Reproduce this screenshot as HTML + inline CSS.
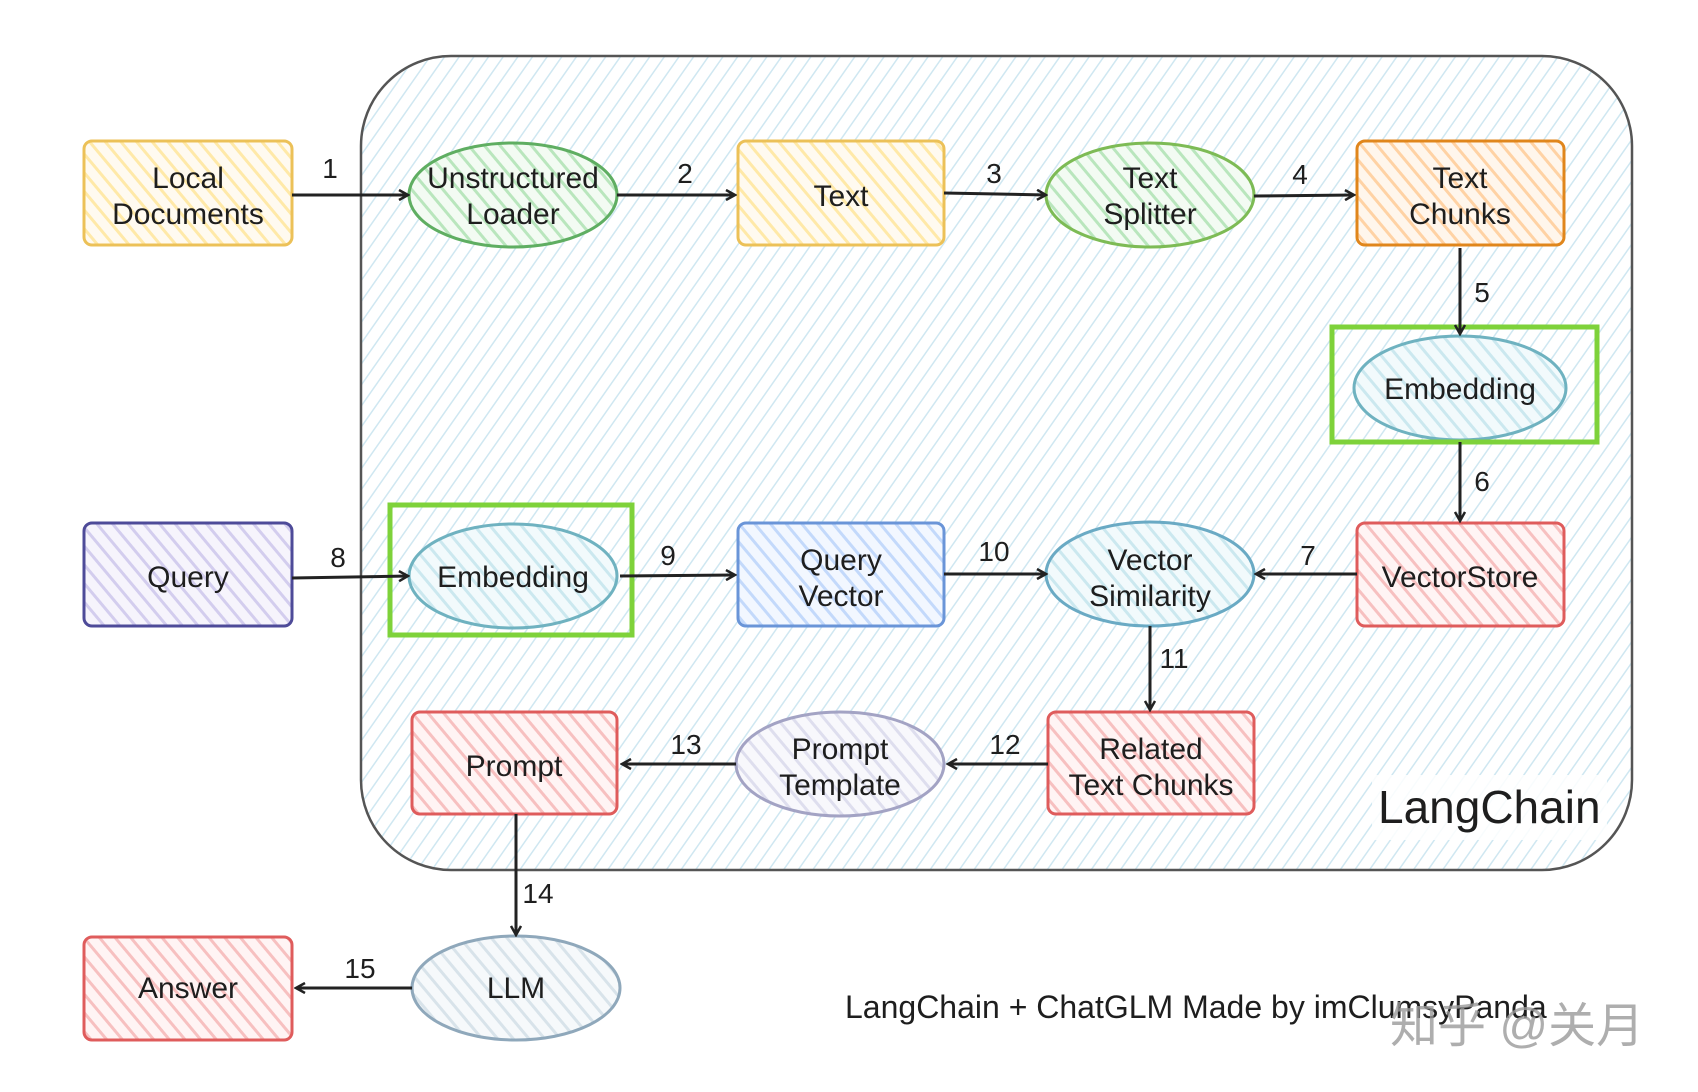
<!DOCTYPE html>
<html><head><meta charset="utf-8"><style>
html,body{margin:0;padding:0;background:#fff;}
svg{display:block;}
text{font-family:"Liberation Sans","Noto Sans CJK SC",sans-serif;fill:#1e1e1e;}
</style></head><body>
<svg width="1698" height="1092" viewBox="0 0 1698 1092" xmlns="http://www.w3.org/2000/svg">
<defs>
<pattern id="pC" width="12" height="12" patternUnits="userSpaceOnUse" patternTransform="rotate(35)"><rect width="12" height="12" fill="#fff"/><line x1="0" y1="0" x2="0" y2="12" stroke="#cfe7f1" stroke-width="3"/></pattern>
<pattern id="pY" width="12" height="12" patternUnits="userSpaceOnUse" patternTransform="rotate(-40)"><rect width="12" height="12" fill="#fffaf0"/><line x1="0" y1="0" x2="0" y2="12" stroke="#ffe9a8" stroke-width="6"/></pattern>
<pattern id="pG" width="12" height="12" patternUnits="userSpaceOnUse" patternTransform="rotate(-40)"><rect width="12" height="12" fill="#f3fbf3"/><line x1="0" y1="0" x2="0" y2="12" stroke="#b9e6bd" stroke-width="6"/></pattern>
<pattern id="pO" width="12" height="12" patternUnits="userSpaceOnUse" patternTransform="rotate(-40)"><rect width="12" height="12" fill="#fff6ec"/><line x1="0" y1="0" x2="0" y2="12" stroke="#ffd2a4" stroke-width="6"/></pattern>
<pattern id="pT" width="12" height="12" patternUnits="userSpaceOnUse" patternTransform="rotate(-40)"><rect width="12" height="12" fill="#f2fafc"/><line x1="0" y1="0" x2="0" y2="12" stroke="#cbe8ef" stroke-width="6"/></pattern>
<pattern id="pP" width="12" height="12" patternUnits="userSpaceOnUse" patternTransform="rotate(-40)"><rect width="12" height="12" fill="#f6f4fc"/><line x1="0" y1="0" x2="0" y2="12" stroke="#d3cdee" stroke-width="6"/></pattern>
<pattern id="pB" width="12" height="12" patternUnits="userSpaceOnUse" patternTransform="rotate(-40)"><rect width="12" height="12" fill="#f2f7ff"/><line x1="0" y1="0" x2="0" y2="12" stroke="#c3d9fb" stroke-width="6"/></pattern>
<pattern id="pR" width="12" height="12" patternUnits="userSpaceOnUse" patternTransform="rotate(-40)"><rect width="12" height="12" fill="#fff4f4"/><line x1="0" y1="0" x2="0" y2="12" stroke="#f7c0c0" stroke-width="6"/></pattern>
<pattern id="pL" width="12" height="12" patternUnits="userSpaceOnUse" patternTransform="rotate(-40)"><rect width="12" height="12" fill="#f8f8fc"/><line x1="0" y1="0" x2="0" y2="12" stroke="#dedeee" stroke-width="6"/></pattern>
<pattern id="pS" width="12" height="12" patternUnits="userSpaceOnUse" patternTransform="rotate(-40)"><rect width="12" height="12" fill="#f6f9fb"/><line x1="0" y1="0" x2="0" y2="12" stroke="#d8e3ea" stroke-width="6"/></pattern>
<marker id="ar" markerWidth="12" markerHeight="12" refX="10" refY="6" orient="auto" markerUnits="userSpaceOnUse"><path d="M1,1 L10,6 L1,11" fill="none" stroke="#222" stroke-width="2.5"/></marker>
</defs>

<rect x="361" y="56" width="1271" height="814" rx="90" fill="url(#pC)" stroke="#555" stroke-width="2.5"/>
<rect x="1372" y="775" width="235" height="65" fill="#fff" opacity="0.85"/>

<g stroke-width="3">
<rect x="84" y="141" width="208" height="104" rx="8" fill="url(#pY)" stroke="#ecc158"/>
<ellipse cx="513" cy="195" rx="104" ry="52" fill="url(#pG)" stroke="#5fae62"/>
<rect x="738" y="141" width="206" height="104" rx="8" fill="url(#pY)" stroke="#ecc158"/>
<ellipse cx="1150" cy="195" rx="104" ry="52" fill="url(#pG)" stroke="#7dbb55"/>
<rect x="1357" y="141" width="207" height="104" rx="8" fill="url(#pO)" stroke="#e0861c"/>
<ellipse cx="1460" cy="388" rx="106" ry="52" fill="url(#pT)" stroke="#6fb2c0"/>
<rect x="84" y="523" width="208" height="103" rx="8" fill="url(#pP)" stroke="#4e4b99"/>
<ellipse cx="513" cy="576" rx="104" ry="52" fill="url(#pT)" stroke="#6fb2c0"/>
<rect x="738" y="523" width="206" height="103" rx="8" fill="url(#pB)" stroke="#6a95d8"/>
<ellipse cx="1150" cy="574" rx="104" ry="52" fill="url(#pT)" stroke="#6aaac4"/>
<rect x="1357" y="523" width="207" height="103" rx="8" fill="url(#pR)" stroke="#df5c5c"/>
<rect x="412" y="712" width="205" height="102" rx="8" fill="url(#pR)" stroke="#df5c5c"/>
<ellipse cx="840" cy="764" rx="104" ry="52" fill="url(#pL)" stroke="#a3a3c4"/>
<rect x="1048" y="712" width="206" height="102" rx="8" fill="url(#pR)" stroke="#df5c5c"/>
<rect x="84" y="937" width="208" height="103" rx="8" fill="url(#pR)" stroke="#df5c5c"/>
<ellipse cx="516" cy="988" rx="104" ry="52" fill="url(#pS)" stroke="#8fa8bb"/>
</g>
<rect x="1332" y="327" width="265" height="115" fill="none" stroke="#7ed23a" stroke-width="5"/>
<rect x="390" y="505" width="242" height="130" fill="none" stroke="#7ed23a" stroke-width="5"/>

<g stroke="#222" stroke-width="3" fill="none" marker-end="url(#ar)">
<line x1="292" y1="195" x2="408" y2="195"/>
<line x1="617" y1="195" x2="735" y2="195"/>
<line x1="944" y1="193" x2="1046" y2="195"/>
<line x1="1254" y1="196" x2="1354" y2="195"/>
<line x1="1460" y1="248" x2="1460" y2="334"/>
<line x1="1460" y1="442" x2="1460" y2="521"/>
<line x1="1357" y1="574" x2="1256" y2="574"/>
<line x1="292" y1="578" x2="408" y2="576"/>
<line x1="620" y1="576" x2="735" y2="575"/>
<line x1="944" y1="574" x2="1046" y2="574"/>
<line x1="1150" y1="626" x2="1150" y2="710"/>
<line x1="1048" y1="764" x2="948" y2="764"/>
<line x1="736" y1="764" x2="622" y2="764"/>
<line x1="516" y1="814" x2="516" y2="935"/>
<line x1="412" y1="988" x2="296" y2="988"/>
</g>

<g font-size="28" text-anchor="middle">
<text x="330" y="178">1</text>
<text x="685" y="183">2</text>
<text x="994" y="183">3</text>
<text x="1300" y="184">4</text>
<text x="1482" y="302">5</text>
<text x="1482" y="491">6</text>
<text x="1308" y="565">7</text>
<text x="338" y="567">8</text>
<text x="668" y="565">9</text>
<text x="994" y="561">10</text>
<text x="1174" y="668">11</text>
<text x="1005" y="754">12</text>
<text x="686" y="754">13</text>
<text x="538" y="903">14</text>
<text x="360" y="978">15</text>
</g>

<g font-size="30" text-anchor="middle">
<text x="188" y="188">Local</text><text x="188" y="224">Documents</text>
<text x="513" y="188">Unstructured</text><text x="513" y="224">Loader</text>
<text x="841" y="206">Text</text>
<text x="1150" y="188">Text</text><text x="1150" y="224">Splitter</text>
<text x="1460" y="188">Text</text><text x="1460" y="224">Chunks</text>
<text x="1460" y="399">Embedding</text>
<text x="188" y="587">Query</text>
<text x="513" y="587">Embedding</text>
<text x="841" y="570">Query</text><text x="841" y="606">Vector</text>
<text x="1150" y="570">Vector</text><text x="1150" y="606">Similarity</text>
<text x="1460" y="587">VectorStore</text>
<text x="514" y="776">Prompt</text>
<text x="840" y="759">Prompt</text><text x="840" y="795">Template</text>
<text x="1151" y="759">Related</text><text x="1151" y="795">Text Chunks</text>
<text x="188" y="998">Answer</text>
<text x="516" y="998">LLM</text>
</g>
<text x="1378" y="823" font-size="46">LangChain</text>
<text x="845" y="1018" font-size="32">LangChain + ChatGLM Made by imClumsyPanda</text>
<text x="1390" y="1042" font-size="48" style="fill:#9a9a9a" opacity="0.8">知乎 @关月</text>
</svg>
</body></html>
